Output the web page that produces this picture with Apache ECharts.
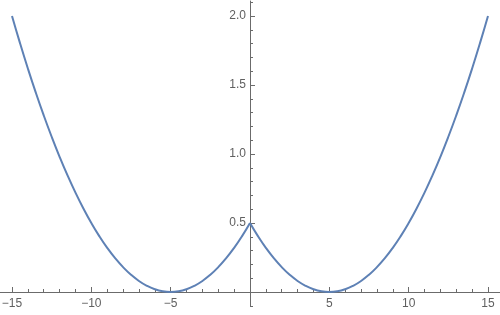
<!DOCTYPE html>
<html>
<head>
<meta charset="utf-8">
<script src="https://cdn.jsdelivr.net/npm/echarts@6/dist/echarts.min.js"></script>
<style>
html,body{margin:0;padding:0;background:#fff;}
#chart{width:500px;height:315px;}
</style>
</head>
<body>
<div id="chart"></div>
<script>
// Sample points
var xValues = [-15,-14.5,-14,-13.5,-13,-12.5,-12,-11.5,-11,-10.5,-10,-9.5,-9,-8.5,-8,-7.5,-7,-6.5,-6,-5.5,-5,-4.5,-4,-3.5,-3,-2.5,-2,-1.5,-1,-0.5,
  0,0.5,1,1.5,2,2.5,3,3.5,4,4.5,5,5.5,6,6.5,7,7.5,8,8.5,9,9.5,10,10.5,11,11.5,12,12.5,13,13.5,14,14.5,15];
var yValues = [2.0,1.805,1.62,1.445,1.28,1.125,0.98,0.845,0.72,0.605,0.5,0.405,0.32,0.245,0.18,0.125,0.08,0.045,0.02,0.005,0,0.005,0.02,0.045,0.08,0.125,0.18,0.245,0.32,0.405,
  0.5,0.405,0.32,0.245,0.18,0.125,0.08,0.045,0.02,0.005,0,0.005,0.02,0.045,0.08,0.125,0.18,0.245,0.32,0.405,0.5,0.605,0.72,0.845,0.98,1.125,1.28,1.445,1.62,1.805,2.0];
var xTickLabels = [-15,-10,-5,5,10,15];
var yTickLabels = [0.5,1.0,1.5,2.0];

var leftData = [], rightData = [];
for (var i = 0; i < xValues.length; i++) {
  if (xValues[i] <= 0) leftData.push([xValues[i], yValues[i]]);
  if (xValues[i] >= 0) rightData.push([xValues[i], yValues[i]]);
}

var axisColor = '#6b6b6b';
var labelColor = '#606060';
var font = 'Liberation Sans, Arial, sans-serif';

var chart = echarts.init(document.getElementById('chart'), null, {renderer:'canvas'});
chart.setOption({
  animation: false,
  backgroundColor: '#ffffff',
  grid: [
    {left: 12, right: 12, top: 16, bottom: 23, containLabel: false, outerBoundsMode: 'none'},
    {left: 0, right: 0, top: 1, bottom: 9, containLabel: false, outerBoundsMode: 'none'}
  ],
  xAxis: [
    {
      type: 'value', gridIndex: 0, min: -15, max: 15, interval: 5,
      axisLine: {show: true, onZero: true, lineStyle: {color: axisColor, width: 1}},
      axisTick: {show: true, inside: true, length: 5, lineStyle: {color: axisColor}},
      minorTick: {show: true, splitNumber: 5, length: 3, lineStyle: {color: axisColor}},
      splitLine: {show: false},
      minorSplitLine: {show: false},
      axisLabel: {
        show: true, margin: 6, color: labelColor, fontSize: 12, fontFamily: font,
        formatter: function (v) {
          if (xTickLabels.indexOf(v) < 0) return '';
          return String(v).replace('-', '\u2212');
        }
      }
    },
    {
      type: 'value', gridIndex: 1, min: -15.75, max: 15.75,
      axisLine: {show: true, onZero: true, lineStyle: {color: axisColor, width: 1}},
      axisTick: {show: false},
      axisLabel: {show: false},
      splitLine: {show: false}
    }
  ],
  yAxis: [
    {
      type: 'value', gridIndex: 0, min: 0, max: 2, interval: 0.5,
      position: 'left', offset: -238,
      axisLine: {show: true, onZero: false, lineStyle: {color: axisColor, width: 1}},
      axisTick: {show: true, inside: true, length: 5, lineStyle: {color: axisColor}},
      minorTick: {show: true, splitNumber: 5, length: 3, lineStyle: {color: axisColor}},
      splitLine: {show: false},
      minorSplitLine: {show: false},
      axisLabel: {
        show: true, margin: 4, color: labelColor, fontSize: 12, fontFamily: font,
        formatter: function (v) {
          var hit = false;
          for (var k = 0; k < yTickLabels.length; k++) if (Math.abs(yTickLabels[k] - v) < 1e-9) hit = true;
          return hit ? v.toFixed(1) : '';
        }
      }
    },
    {
      type: 'value', gridIndex: 1, min: -0.1, max: 2.109,
      axisLine: {show: true, onZero: true, lineStyle: {color: axisColor, width: 1}},
      axisTick: {show: true, inside: true, length: 3, customValues: [-0.1, 2.1], lineStyle: {color: axisColor}},
      axisLabel: {show: false},
      splitLine: {show: false}
    }
  ],
  series: [
    {
      type: 'line', xAxisIndex: 0, yAxisIndex: 0, data: leftData, smooth: true,
      showSymbol: false, clip: false,
      lineStyle: {color: '#5e81b5', width: 2}, itemStyle: {color: '#5e81b5'}
    },
    {
      type: 'line', xAxisIndex: 0, yAxisIndex: 0, data: rightData, smooth: true,
      showSymbol: false, clip: false,
      lineStyle: {color: '#5e81b5', width: 2}, itemStyle: {color: '#5e81b5'}
    }
  ]
});
</script>
</body>
</html>
